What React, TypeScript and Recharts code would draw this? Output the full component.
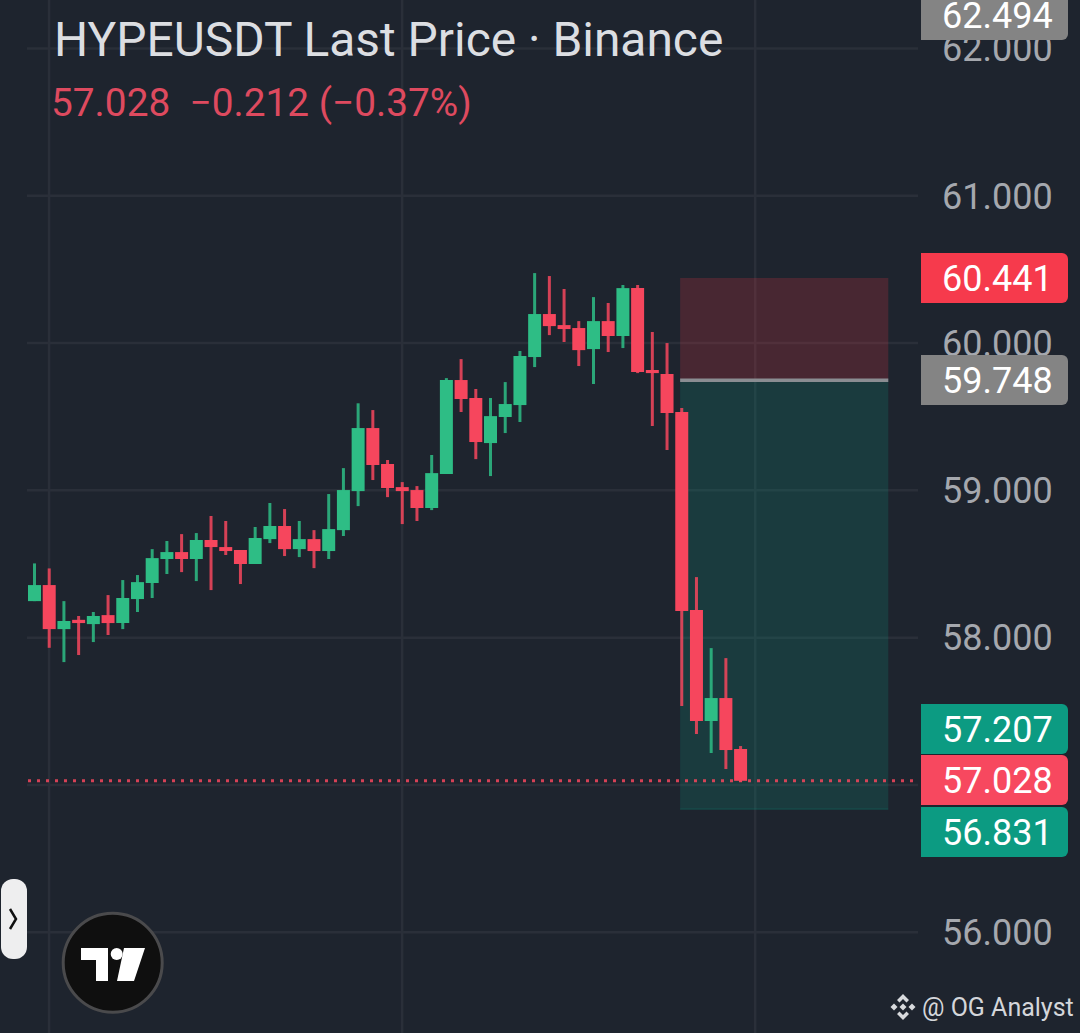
import { Bar, CartesianGrid, Cell, ComposedChart, ReferenceArea, ReferenceLine, XAxis, YAxis } from "recharts";

const UP = "#2ebd85";
const DOWN = "#f6465d";

// candles, left to right
const opens = [58.248, 58.357, 58.058, 58.121, 58.092, 58.153, 58.099, 58.262, 58.371, 58.534, 58.581, 58.534, 58.663, 58.615, 58.595, 58.5, 58.669, 58.758, 58.601, 58.669, 58.588, 58.73, 58.995, 59.423, 59.179, 59.022, 59.002, 58.88, 59.111, 59.749, 59.627, 59.321, 59.498, 59.579, 59.905, 60.197, 60.122, 60.102, 59.959, 60.149, 60.048, 60.373, 59.817, 59.79, 59.532, 58.187, 57.434, 57.59, 57.244];
const highs = [58.504, 58.47, 58.248, 58.147, 58.174, 58.289, 58.391, 58.425, 58.601, 58.656, 58.703, 58.71, 58.826, 58.792, 58.595, 58.751, 58.914, 58.873, 58.792, 58.73, 58.975, 59.151, 59.591, 59.545, 59.206, 59.056, 59.029, 59.24, 59.762, 59.891, 59.688, 59.627, 59.735, 59.946, 60.475, 60.455, 60.367, 60.149, 60.312, 60.272, 60.394, 60.394, 60.075, 60.0, 59.559, 58.411, 57.929, 57.861, 57.264];
const lows = [58.248, 57.931, 57.834, 57.882, 57.97, 58.018, 58.058, 58.174, 58.269, 58.432, 58.445, 58.384, 58.323, 58.561, 58.364, 58.5, 58.642, 58.554, 58.547, 58.472, 58.534, 58.69, 58.893, 59.07, 58.954, 58.771, 58.792, 58.866, 59.111, 59.532, 59.212, 59.097, 59.389, 59.464, 59.837, 60.054, 60.007, 59.844, 59.722, 59.939, 59.966, 59.796, 59.437, 59.274, 57.536, 57.346, 57.217, 57.108, 57.02];
const closes = [58.357, 58.058, 58.113, 58.099, 58.147, 58.099, 58.269, 58.377, 58.54, 58.581, 58.534, 58.663, 58.615, 58.588, 58.5, 58.676, 58.758, 58.601, 58.669, 58.588, 58.737, 59.002, 59.423, 59.172, 59.016, 58.995, 58.88, 59.117, 59.749, 59.62, 59.328, 59.504, 59.586, 59.912, 60.197, 60.115, 60.095, 59.952, 60.149, 60.048, 60.373, 59.803, 59.796, 59.525, 58.181, 57.434, 57.59, 57.237, 57.028];

const priceTicks = [56, 57, 58, 59, 60, 61, 62];
const timeTicks = [1, 25, 49];
const lastPrice = 57.028;
const stopPrice = 60.441;
const entryPrice = 59.748;
const targetPrice = 56.831;
const boxStart = 43.9;
const boxEnd = 58.05;

const candles = opens.map((open, i) => ({
  i,
  wick: [lows[i], highs[i]],
  body: [Math.min(open, closes[i]), Math.max(open, closes[i])],
  up: closes[i] >= open,
}));

function Tag({ top, bg, color = "#fff", children }: { top: number; bg: string; color?: string; children: string }) {
  return (
    <div
      style={{
        position: "absolute",
        left: 921,
        top,
        width: 147,
        height: 50,
        background: bg,
        color,
        borderRadius: "0 6px 6px 0",
        fontSize: 36,
        lineHeight: "53px",
        textAlign: "left",
        paddingLeft: 21,
        boxSizing: "border-box",
      }}
    >
      {children}
    </div>
  );
}

function BinanceMark() {
  return (
    <svg width={28} height={28} viewBox="0 0 28 28" style={{ position: "absolute", left: 889, top: 993 }}>
      <g fill="#d8dadd">
        <path d="M14 1 L20 7 L17.5 9.5 L14 6 L10.5 9.5 L8 7 Z" />
        <path d="M14 27 L20 21 L17.5 18.5 L14 22 L10.5 18.5 L8 21 Z" />
        <path d="M14 10.5 L17.5 14 L14 17.5 L10.5 14 Z" />
        <path d="M5 10.5 L8.5 14 L5 17.5 L1.5 14 Z" />
        <path d="M23 10.5 L26.5 14 L23 17.5 L19.5 14 Z" />
      </g>
    </svg>
  );
}

export default function App() {
  return (
    <div
      style={{
        position: "absolute",
        left: 0,
        top: 0,
        width: 1080,
        height: 1033,
        background: "#1e242e",
        overflow: "hidden",
        fontFamily: "Roboto, sans-serif",
      }}
    >
      <ComposedChart width={1080} height={1033} data={candles} margin={{ top: 0, right: 0, bottom: 0, left: 27 }} barGap={0}>
        <CartesianGrid xAxisId="wick" stroke="#2a2f39" strokeWidth={2.5} syncWithTicks horizontalValues={priceTicks} verticalValues={timeTicks} />
        <XAxis xAxisId="wick" type="number" dataKey="i" domain={[-0.5, 60.07]} ticks={timeTicks} hide allowDataOverflow />
        <XAxis xAxisId="body" type="number" dataKey="i" domain={[-0.5, 60.07]} ticks={timeTicks} hide allowDataOverflow />
        <YAxis
          orientation="right"
          width={162}
          type="number"
          domain={[55.316, 62.329]}
          ticks={priceTicks}
          allowDataOverflow
          interval={0}
          axisLine={false}
          tickLine={false}
          tickMargin={18}
          tickFormatter={(v: number) => v.toFixed(3)}
          tick={{ fill: "#a5a8ae", fontSize: 36, fontFamily: "Roboto, sans-serif", textAnchor: "start" }}
        />
        <ReferenceArea xAxisId="wick" x1={boxStart} x2={boxEnd} y1={entryPrice} y2={stopPrice} fill="#f23645" fillOpacity={0.2} stroke="none" />
        <ReferenceArea xAxisId="wick" x1={boxStart} x2={boxEnd} y1={targetPrice} y2={entryPrice} fill="#089981" fillOpacity={0.2} stroke="none" />
        <ReferenceArea xAxisId="wick" x1={boxStart} x2={boxEnd} y1={targetPrice} y2={targetPrice + 0.012} fill="#089981" fillOpacity={0.12} stroke="none" />
        <ReferenceArea xAxisId="wick" x1={boxStart} x2={boxEnd} y1={entryPrice - 0.012} y2={entryPrice + 0.012} fill="#8a8d92" fillOpacity={1} stroke="none" />
        <Bar xAxisId="wick" dataKey="wick" barSize={3} isAnimationActive={false}>
          {candles.map((c) => (
            <Cell key={c.i} fill={c.up ? UP : DOWN} fillOpacity={0.85} />
          ))}
        </Bar>
        <Bar xAxisId="body" dataKey="body" barSize={13} isAnimationActive={false}>
          {candles.map((c) => (
            <Cell key={c.i} fill={c.up ? UP : DOWN} />
          ))}
        </Bar>
        <ReferenceLine xAxisId="wick" y={lastPrice} stroke="#f6465d" strokeOpacity={0.85} strokeWidth={3} strokeDasharray="3 6" strokeDashoffset={4} />
      </ComposedChart>

      <div style={{ position: "absolute", left: 54, top: 11, fontSize: 47.9, lineHeight: "58px", color: "#dcdee2", whiteSpace: "nowrap" }}>
        HYPEUSDT Last Price · Binance
      </div>
      <div style={{ position: "absolute", left: 51, top: 79, fontSize: 38.8, lineHeight: "48px", color: "#de4a5f", whiteSpace: "pre" }}>
        {"57.028  −0.212 (−0.37%)"}
      </div>

      <Tag top={-10} bg="#848484">62.494</Tag>
      <Tag top={253} bg="#f63a4c">60.441</Tag>
      <Tag top={355} bg="#848484">59.748</Tag>
      <Tag top={704} bg="#0c9b82">57.207</Tag>
      <Tag top={755} bg="#f7485f">57.028</Tag>
      <Tag top={807} bg="#0c9b82">56.831</Tag>

      <div style={{ position: "absolute", left: 1, top: 879, width: 26, height: 80, background: "#eeeeef", borderRadius: 12 }}>
        <svg width={26} height={80} style={{ display: "block" }}>
          <path d="M9 30 L15 40 L9 50" fill="none" stroke="#111" strokeWidth={2.5} />
        </svg>
      </div>

      <svg width={104} height={104} viewBox="0 0 104 104" style={{ position: "absolute", left: 61, top: 911 }}>
        <circle cx={51.7} cy={51.7} r={49.5} fill="#0f0f0f" stroke="#4a4a4c" strokeWidth={3} />
        <path d="M20 37 H47 V70 H35 V49 H20 Z" fill="#fff" />
        <circle cx={55.7} cy={43} r={6} fill="#fff" />
        <path d="M63 37 H84 L73 70 H56 Z" fill="#fff" />
      </svg>

      <BinanceMark />
      <div style={{ position: "absolute", left: 922, top: 992, fontSize: 25, lineHeight: "32px", color: "#d4d6da", whiteSpace: "nowrap" }}>
        @ OG Analyst
      </div>
    </div>
  );
}
